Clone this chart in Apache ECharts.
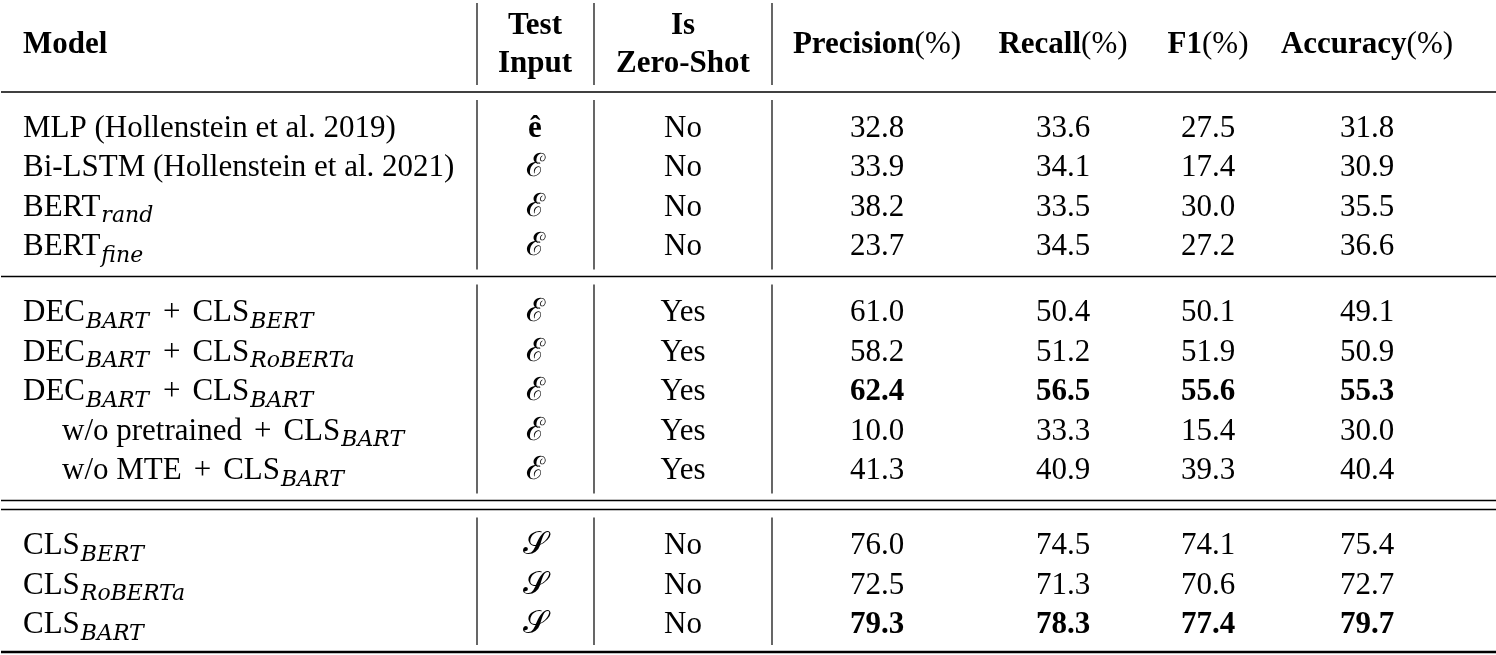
<!DOCTYPE html>
<html><head><meta charset="utf-8">
<script src="https://cdn.jsdelivr.net/npm/echarts@6/dist/echarts.min.js"></script>
<style>html,body{margin:0;padding:0;background:#fff}#c{width:1496px;height:655px}</style>
</head><body><div id="c"></div>
<script>
// ---------- DATA ----------
const headers = ['Model', 'Test\nInput', 'Is\nZero-Shot', 'Precision(%)', 'Recall(%)', 'F1(%)', 'Accuracy(%)'];
const models = [
  'MLP (Hollenstein et al. 2019)',
  'Bi-LSTM (Hollenstein et al. 2021)',
  'BERT_{rand}',
  'BERT_{fine}',
  'DEC_{BART} + CLS_{BERT}',
  'DEC_{BART} + CLS_{RoBERTa}',
  'DEC_{BART} + CLS_{BART}',
  'w/o pretrained + CLS_{BART}',
  'w/o MTE + CLS_{BART}',
  'CLS_{BERT}',
  'CLS_{RoBERTa}',
  'CLS_{BART}'
];
const testInput = ['ê', 'ℰ', 'ℰ', 'ℰ', 'ℰ', 'ℰ', 'ℰ', 'ℰ', 'ℰ', '𝒮', '𝒮', '𝒮'];
const zeroShot = ['No', 'No', 'No', 'No', 'Yes', 'Yes', 'Yes', 'Yes', 'Yes', 'No', 'No', 'No'];
const precision = [32.8, 33.9, 38.2, 23.7, 61.0, 58.2, 62.4, 10.0, 41.3, 76.0, 72.5, 79.3];
const recall    = [33.6, 34.1, 33.5, 34.5, 50.4, 51.2, 56.5, 33.3, 40.9, 74.5, 71.3, 78.3];
const f1        = [27.5, 17.4, 30.0, 27.2, 50.1, 51.9, 55.6, 15.4, 39.3, 74.1, 70.6, 77.4];
const accuracy  = [31.8, 30.9, 35.5, 36.6, 49.1, 50.9, 55.3, 30.0, 40.4, 75.4, 72.7, 79.7];
const groupSizes = [4, 5, 3];
const bestRows = [6, 11];
const boldTestInputRows = [0];
const indentedRows = [7, 8];

// ---------- LAYOUT ----------
const W = 1496, H = 655;
const colX = [23, 535, 683, 877, 1063, 1208, 1367];
const indentX = 62;
const vLineX = [477, 594, 772];
const headerY1 = 26, headerY2 = 64, headerYMid = 45;
const headerRule = 92, rowStep = 39.5, firstOff = 36.5, lastOff = 29.5, dblGap = 9, bottomOff = 27;
const doubleAfterGroup = 1;

const rowY = [];
const hRules = [{ y: headerRule, w: 1.6 }];
const blocks = [{ top: 3, bottom: headerRule - 7 }];
let cur = headerRule;
groupSizes.forEach((n, g) => {
  const start = cur;
  for (let k = 0; k < n; k++) rowY.push(start + firstOff + k * rowStep);
  const last = rowY[rowY.length - 1];
  let end;
  if (g === groupSizes.length - 1) {
    end = last + bottomOff; hRules.push({ y: end, w: 2.6 });
    blocks.push({ top: start + 8, bottom: end - 7 });
    cur = end;
  } else if (g === doubleAfterGroup) {
    end = last + lastOff; hRules.push({ y: end, w: 1.6 }); hRules.push({ y: end + dblGap, w: 1.6 });
    blocks.push({ top: start + 8, bottom: end - 7 });
    cur = end + dblGap;
  } else {
    end = last + lastOff; hRules.push({ y: end, w: 1.6 });
    blocks.push({ top: start + 8, bottom: end - 7 });
    cur = end;
  }
});

// ---------- TEXT BUILDING ----------
const SERIF = "'Liberation Serif', 'Times New Roman', serif";
const rich = {
  t:  { fontFamily: SERIF, fontSize: 31, fill: '#000', color: '#000', lineHeight: 40, verticalAlign: 'middle' },
  hb: { fontFamily: SERIF, fontSize: 31, fontWeight: 'bold', fill: '#000', color: '#000' },
  h:  { fontFamily: SERIF, fontSize: 31, fill: '#000', color: '#000' },
  b:  { fontFamily: SERIF, fontSize: 31, fontWeight: 'bold', fill: '#000', color: '#000' },
  s:  { fontFamily: "'DejaVu Serif', serif", fontStyle: 'italic', fontSize: 22, fill: '#000', color: '#000', lineHeight: 25, verticalAlign: 'bottom', padding: [0, 2, 0, 1] },
  p:  { fontFamily: SERIF, fontSize: 31, fill: '#000', color: '#000', padding: [0, 12, 0, 12], lineHeight: 40 },
  c:  { fontFamily: "'DejaVu Serif', serif", fontSize: 32, fill: '#000', color: '#000' }
};
function modelRich(name) {
  let s = '{t|' + name.replace(/_\{([^}]*)\}/g, '}{s|$1}{t|').replace(/ \+ /g, '}{p|+}{t|') + '}';
  return s.replace(/\{t\|\}/g, '');
}
function headerRich(txt) {
  const i = txt.indexOf('(');
  if (i > 0) return '{hb|' + txt.slice(0, i) + '}{h|' + txt.slice(i) + '}';
  return '{hb|' + txt + '}';
}

const cells = [];
headers.forEach((h, c) => {
  const lines = h.split('\n');
  if (lines.length === 1) cells.push({ x: colX[c], y: headerYMid, text: headerRich(lines[0]), align: c === 0 ? 'left' : 'center' });
  else {
    cells.push({ x: colX[c], y: headerY1, text: headerRich(lines[0]), align: 'center' });
    cells.push({ x: colX[c], y: headerY2, text: headerRich(lines[1]), align: 'center' });
  }
});
const metrics = [precision, recall, f1, accuracy];
models.forEach((m, r) => {
  const y = rowY[r];
  cells.push({ x: indentedRows.includes(r) ? indentX : colX[0], y, text: modelRich(m), align: 'left' });
  const ti = testInput[r];
  cells.push({ x: colX[1], y, text: boldTestInputRows.includes(r) ? '{b|' + ti + '}' : '{c|' + ti + '}', align: 'center' });
  cells.push({ x: colX[2], y, text: '{t|' + zeroShot[r] + '}', align: 'center' });
  metrics.forEach((arr, k) => {
    const v = arr[r].toFixed(1);
    cells.push({ x: colX[3 + k], y, text: (bestRows.includes(r) ? '{b|' : '{t|') + v + '}', align: 'center' });
  });
});

const segs = [];
hRules.forEach(r => segs.push({ x1: 1, y1: r.y, x2: W, y2: r.y, w: r.w }));
blocks.forEach(b => vLineX.forEach(x => segs.push({ x1: x, y1: b.top, x2: x, y2: b.bottom, w: 1.2 })));

// ---------- CHART ----------
const chart = echarts.init(document.getElementById('c'), null, { renderer: 'canvas' });
chart.setOption({
  animation: false,
  backgroundColor: '#fff',
  grid: { left: 0, right: 0, top: 0, bottom: 0 },
  xAxis: { type: 'value', min: 0, max: W, show: false },
  yAxis: { type: 'value', min: 0, max: H, inverse: true, show: false },
  series: [
    {
      type: 'custom', silent: true,
      data: segs.map(s => [s.x1, s.y1, s.x2, s.y2]),
      renderItem: (params, api) => {
        const s = segs[params.dataIndex];
        const p1 = api.coord([api.value(0), api.value(1)]);
        const p2 = api.coord([api.value(2), api.value(3)]);
        return { type: 'line', shape: { x1: p1[0], y1: p1[1], x2: p2[0], y2: p2[1] }, style: { stroke: '#000', lineWidth: s.w } };
      }
    },
    {
      type: 'custom', silent: true,
      data: cells.map(c => [c.x, c.y]),
      renderItem: (params, api) => {
        const c = cells[params.dataIndex];
        const p = api.coord([api.value(0), api.value(1)]);
        return { type: 'text', x: p[0], y: p[1], style: { text: c.text, rich: rich, align: c.align, verticalAlign: 'middle', fill: '#000' } };
      }
    }
  ]
});
</script>
</body></html>
